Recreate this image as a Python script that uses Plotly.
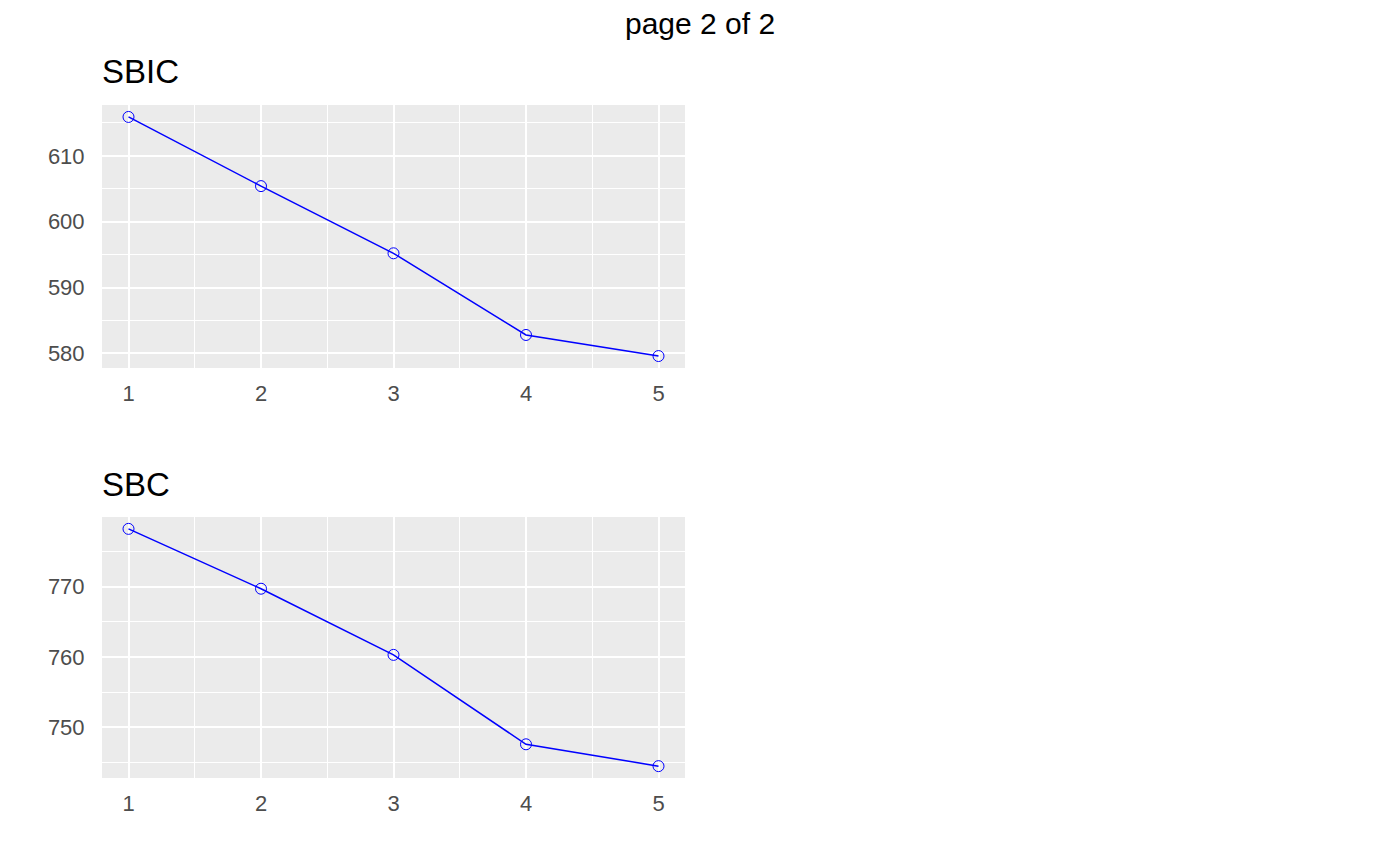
import plotly.graph_objects as go

# data
steps = [1, 2, 3, 4, 5]
sbic = [615.9, 605.4, 595.2, 582.8, 579.6]
sbc = [778.2, 769.7, 760.3, 747.6, 744.5]

BLUE = "#0000FF"
PANEL = "#EBEBEB"
FONT = "Liberation Sans, Arial, sans-serif"
W, H = 1400, 866
OFF = 8  # page body margin in the browser


def pad(vals, f=0.05):
    lo, hi = min(vals), max(vals)
    d = (hi - lo) * f
    return [lo - d, hi + d]


def xdom(a, b):
    return [(a - OFF) / W, (b - OFF) / W]


def ydom(top, bottom):
    return [1 - (bottom - OFF) / H, 1 - (top - OFF) / H]


fig = go.Figure()
fig.add_trace(go.Scatter(x=steps, y=sbic, mode="lines+markers", xaxis="x", yaxis="y",
                         line=dict(color=BLUE, width=1.5),
                         marker=dict(symbol="circle-open", size=11, color=BLUE, line=dict(width=1))))
fig.add_trace(go.Scatter(x=steps, y=sbc, mode="lines+markers", xaxis="x2", yaxis="y2",
                         line=dict(color=BLUE, width=1.5),
                         marker=dict(symbol="circle-open", size=11, color=BLUE, line=dict(width=1))))

tickfont = dict(size=22, color="#4D4D4D", family=FONT)
xcommon = dict(range=pad(steps), tick0=1, dtick=1, showgrid=True, gridcolor="white", gridwidth=1.5,
               zeroline=False, showline=False, ticks="outside", ticklen=6, tickcolor="rgba(0,0,0,0)",
               tickfont=tickfont,
               minor=dict(dtick=0.5, showgrid=True, gridcolor="white", gridwidth=0.6, ticks=""))
ycommon = dict(tick0=0, dtick=10, showgrid=True, gridcolor="white", gridwidth=1.5,
               zeroline=False, showline=False, ticks="outside", ticklen=12, tickcolor="rgba(0,0,0,0)",
               tickfont=tickfont,
               minor=dict(dtick=5, showgrid=True, gridcolor="white", gridwidth=0.6, ticks=""))

fig.update_layout(
    width=W, height=H,
    margin=dict(l=0, r=0, t=0, b=0),
    paper_bgcolor="white", plot_bgcolor=PANEL,
    showlegend=False,
    font=dict(family=FONT, color="black"),
    xaxis=dict(domain=xdom(102, 685), anchor="y", **xcommon),
    yaxis=dict(domain=ydom(105, 368), anchor="x", range=pad(sbic), **ycommon),
    xaxis2=dict(domain=xdom(102, 685), anchor="y2", **xcommon),
    yaxis2=dict(domain=ydom(517, 778), anchor="x2", range=pad(sbc), **ycommon),
    annotations=[
        dict(text="page 2 of 2", x=(700 - OFF) / W, y=1 - (24 - OFF) / H, xref="paper", yref="paper",
             showarrow=False, font=dict(size=30, color="black"), xanchor="center", yanchor="middle"),
        dict(text="SBIC", x=(100 - OFF) / W, y=1 - (72 - OFF) / H, xref="paper", yref="paper",
             showarrow=False, font=dict(size=33, color="black"), xanchor="left", yanchor="middle"),
        dict(text="SBC", x=(100 - OFF) / W, y=1 - (484 - OFF) / H, xref="paper", yref="paper",
             showarrow=False, font=dict(size=33, color="black"), xanchor="left", yanchor="middle"),
    ],
)

fig.write_html("out.html")
